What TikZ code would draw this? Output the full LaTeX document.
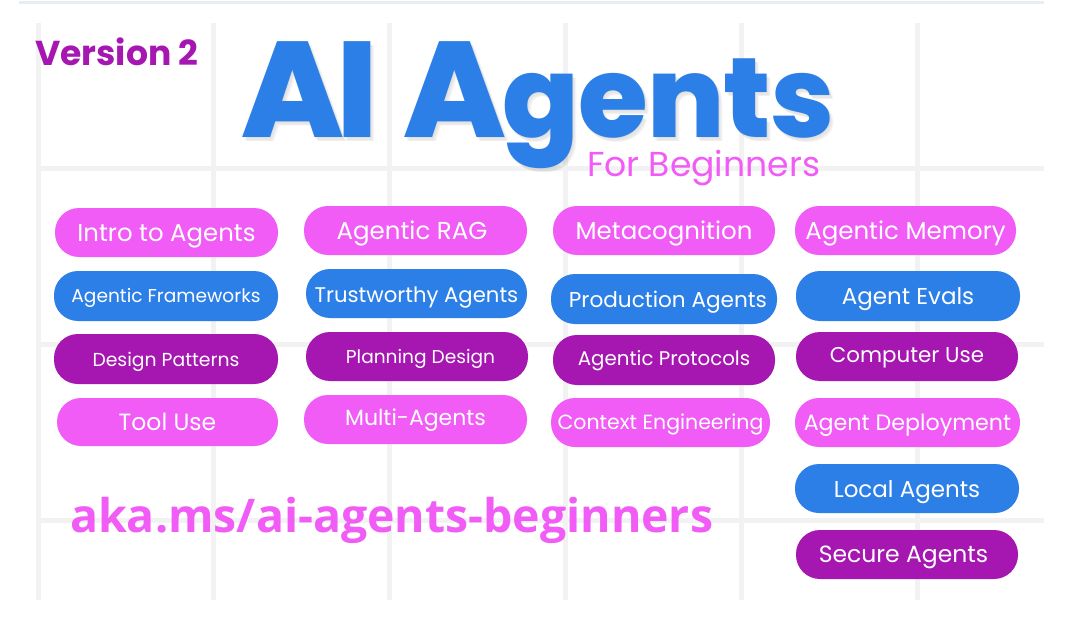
\documentclass[tikz,border=0pt]{standalone}
\usepackage{fontspec}
\setmainfont{Poppins}
\newfontfamily\urlfont{Open Sans}
\newfontfamily\titlefont[LetterSpace=-5.5]{Poppins ExtraBold}
\newfontfamily\gentsfont[LetterSpace=-1]{Poppins ExtraBold}
\usepackage{tikz}
\definecolor{pillpink}{HTML}{F05CF5}
\definecolor{pillblue}{HTML}{2B7FE6}
\definecolor{pillpurple}{HTML}{A517B0}
\definecolor{gridgray}{HTML}{F2F2F2}
\definecolor{topline}{HTML}{E8EDF3}
\newcommand{\titletext}{{\titlefont\fontsize{136}{136}\selectfont AI\hspace{25pt}A\hspace{-3pt}}{\gentsfont\fontsize{113}{113}\selectfont gents}}
\tikzset{
    pill/.style={rounded corners=24pt, inner sep=0pt, text=white},
    pinkpill/.style={pill, fill=pillpink},
    bluepill/.style={pill, fill=pillblue},
    purplepill/.style={pill, fill=pillpurple},
    fs/.style={font=\fontsize{#1}{#1}\selectfont, text height={0.7*#1pt}, text depth=0pt},
    gridline/.style={gridgray, line width=5pt},
    label/.style={anchor=base west, inner sep=0pt}
}

\begin{document}
\begin{tikzpicture}[x=1pt, y=-1pt]
    \useasboundingbox (0,0) rectangle (1080,618);
    \fill[white] (0,0) rectangle (1080,618);
    % background grid
    \draw[topline, line width=2.5pt] (19,2.5) -- (1044,2.5);
    \foreach \gx in {38,213,389,565,741,917} {
        \draw[gridline] (\gx,23) -- (\gx,600);
    }
    \foreach \gy in {168,344,520} {
        \draw[gridline] (36,\gy) -- (1044,\gy);
    }

    % titles
    \foreach \sh in {1,2,3,4} {
        \node[label, text=black, opacity=0.03] (shadow\sh) at (241+\sh,138+\sh) {\titletext};
    }
    \node[label, text=pillblue] (title) at (241,138) {\titletext};
    \node[label, text=pillpurple, font=\bfseries\fontsize{34.6}{35}\selectfont] (version) at (35,66) {Version 2};
    \node[label, text=pillpink, font=\fontsize{34.6}{35}\selectfont] (sub) at (587,176) {For Beginners};
    \node[label, text=pillpink, font=\urlfont\bfseries\fontsize{46.4}{47}\selectfont] (url) at (70,532) {aka.ms/ai-agents-beginners};

    % first column
    \node[pinkpill, fs=24.4, minimum width=223pt, minimum height=49pt] (intro) at (166.5,232.5) {Intro to Agents};
    \node[bluepill, fs=18.6, minimum width=224pt, minimum height=50pt] (frameworks) at (166,296) {Agentic Frameworks};
    \node[purplepill, fs=18.8, minimum width=224pt, minimum height=50pt] (patterns) at (166,359) {\raisebox{-1pt}{Design Patterns}};
    \node[pinkpill, fs=23.5, minimum width=221pt, minimum height=48pt] (tool) at (167.5,422) {Tool Use};

    % second column
    \node[pinkpill, fs=24.5, minimum width=223pt, minimum height=49pt] (rag) at (415.5,230.5) {Agentic RAG\hspace*{7pt}};
    \node[bluepill, fs=21.2, minimum width=221pt, minimum height=49pt] (trust) at (416.5,293.5) {\raisebox{-2pt}{Trustworthy Agents}};
    \node[purplepill, fs=18.6, minimum width=222pt, minimum height=49pt] (planning) at (417,356.5) {\hspace*{7pt}Planning Design};
    \node[pinkpill, fs=22, minimum width=223pt, minimum height=49pt] (multi) at (415.5,419.5) {\raisebox{2pt}{Multi-Agents}};

    % third column
    \node[pinkpill, fs=24.5, minimum width=222pt, minimum height=49pt] (meta) at (664,230.5) {Metacognition};
    \node[bluepill, fs=21.6, minimum width=226pt, minimum height=50pt] (production) at (664,299) {\hspace*{8pt}\raisebox{-1pt}{Production Agents}};
    \node[purplepill, fs=19.8, minimum width=222pt, minimum height=50pt] (protocols) at (664,360) {\raisebox{1pt}{Agentic Protocols}};
    \node[pinkpill, fs=20.5, minimum width=219pt, minimum height=49pt] (context) at (660.5,422.5) {Context Engineering};

    % fourth column
    \node[pinkpill, fs=24.5, minimum width=221pt, minimum height=49pt] (memory) at (905.5,230.5) {Agentic Memory};
    \node[bluepill, fs=23, minimum width=224pt, minimum height=50pt] (evals) at (908,296) {Agent Evals};
    \node[purplepill, fs=21.4, minimum width=222pt, minimum height=49pt] (computer) at (907,356.5) {\raisebox{1pt}{Computer Use}};
    \node[pinkpill, fs=22.2, minimum width=225pt, minimum height=49pt] (deployment) at (907.5,422.5) {Agent Deployment};
    \node[bluepill, fs=23, minimum width=224pt, minimum height=49pt] (local) at (907,488.5) {\raisebox{-1pt}{Local Agents}};
    \node[purplepill, fs=23.5, minimum width=222pt, minimum height=49pt] (secure) at (907,554.5) {Secure Agents\hspace*{7pt}};
\end{tikzpicture}
\end{document}
